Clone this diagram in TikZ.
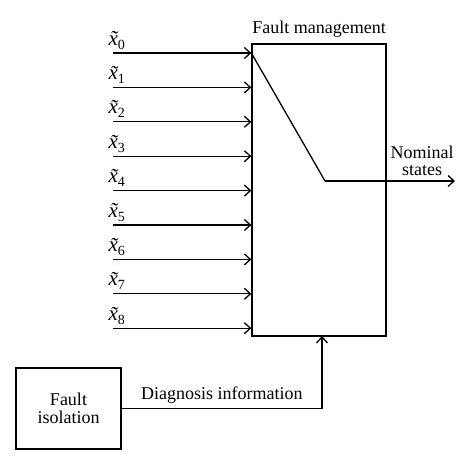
\documentclass[tikz,border=0pt]{standalone}
\usepackage{fontspec}
\setmainfont{Liberation Serif}
\usetikzlibrary{arrows.meta}
\newcommand{\xtil}[1]{{\fontsize{21}{21}\selectfont\itshape\~{x}}\raisebox{-4pt}{\fontsize{14}{14}\selectfont #1}}

\begin{document}
\begin{tikzpicture}[x=1pt,y=-1pt,line width=1.3pt,
  >={Straight Barb[length=6pt,width=11pt]},
  lbl/.style={font=\fontsize{18}{18}\selectfont},
  blk/.style={draw,rectangle,inner sep=0pt}]
\useasboundingbox (0,0) rectangle (474,466);
\node[blk,minimum width=134,minimum height=292] (fm) at (319,190) {};
\node[lbl,above,inner sep=5pt] (fmlabel) at (fm.north) {Fault management};
\node[blk,lbl,minimum width=105,minimum height=81,align=center] (fi) at (68.5,408.5) {Fault\\isolation};
% inputs
\foreach \i in {0,...,8}{
  \coordinate (in\i) at (113,{53+34.4*\i});
  \draw[->] (in\i) -- (in\i -| fm.west);
  \node[anchor=base west,inner sep=0pt] (x\i) at ([xshift=-5,yshift=8]in\i) {\xtil{\i}};
}
% switch
\coordinate (sw) at (325,181);
\coordinate (out) at (455,181);
\draw (in0 -| fm.west) -- (sw);
\draw[->] (sw) -- (out);
\node[lbl,align=center] (nom) at (422,161) {Nominal\\[-1pt]states};
% diagnosis
\coordinate (diag) at (322,336);
\draw[->] (fi.east) -| (diag) node[lbl,pos=0.25,above,inner sep=4pt] (dlabel) {Diagnosis information};
\end{tikzpicture}
\end{document}
